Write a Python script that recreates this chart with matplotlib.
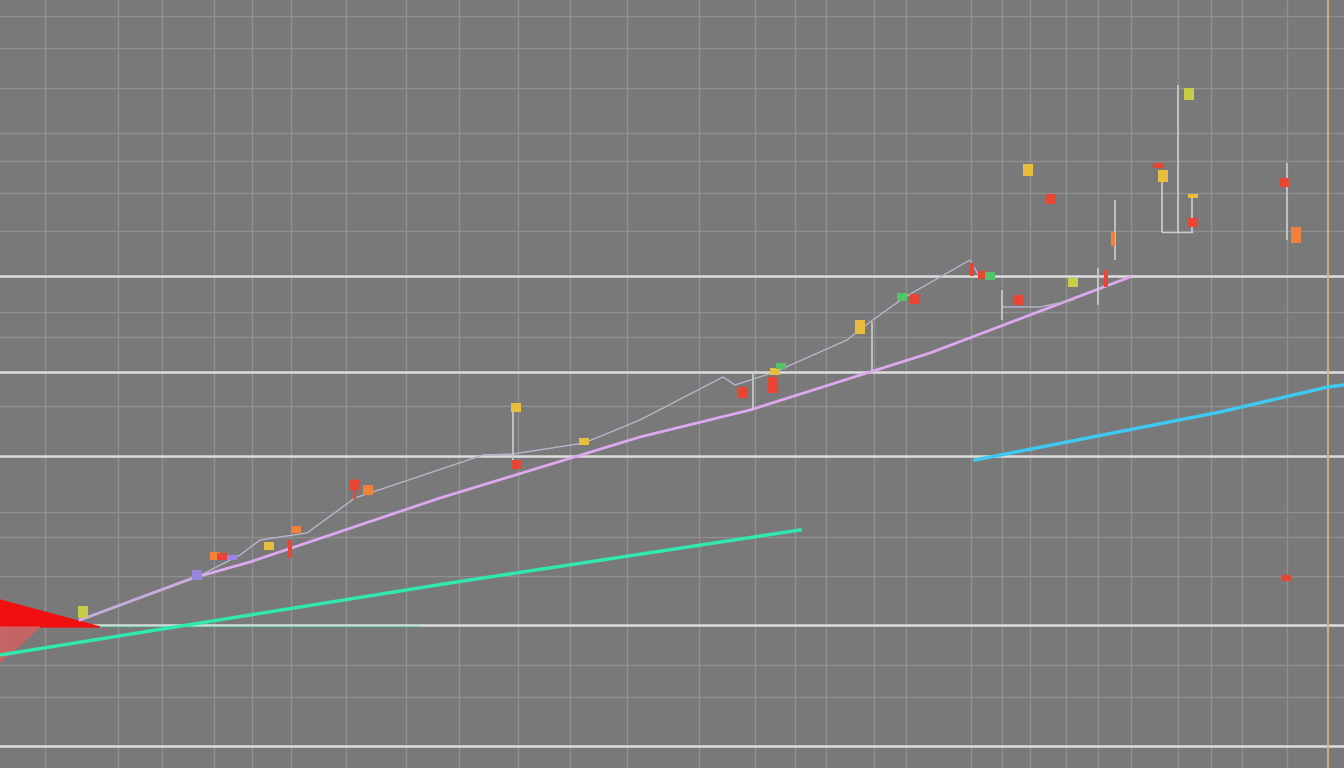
"""Abstract candlestick-style chart on a gray grid"""

import numpy as np
from matplotlib import pyplot as plt

### data (x in bars, y in price units)

# rising trend line (violet)
trend_x = [6.67, 16.08, 20.83, 36.67, 53.33, 62.5, 77.5, 94.17]
trend_y = [37, 47.5, 51.5, 67.5, 82.75, 89.5, 103.75, 122.75]

# thin price line
price_x = [7.08, 16.25, 20, 21.67, 25.58, 29.58, 40.25, 42.75, 48.67, 53.33,
           60.25, 61.25, 64.58, 70.58, 72.5, 75.42, 80.83, 81.5]
price_y = [37.5, 47.5, 53.25, 57, 58.75, 67.5, 78.25, 78.5, 81.25, 87,
           97.75, 95.75, 99, 107, 111.5, 117.75, 127, 123.5]
price2_x = [83.58, 86.67, 89.42]
price2_y = [115.25, 115.25, 117]

# green line
green_x = [0, 37.5, 66.67]
green_y = [28.25, 46.25, 59.5]

# cyan line
cyan_x = [81.25, 101.67, 110.67, 112]
cyan_y = [77, 89, 95.25, 95.75]

# candles: x, top, bottom, colour key
candle_x = [6.92, 16.42, 17.92, 18.5, 19.33, 22.42, 24.67, 29.58, 30.67,
            43, 43.08, 48.67, 61.92, 64.42, 64.58, 65.08, 71.67, 75.17, 76.25,
            81.92, 82.5, 84.83, 85.67, 87.58, 89.42, 96.5, 96.92, 99.08,
            99.42, 99.42, 107, 108, 107.17]
candle_top = [40.5, 49.5, 54, 53.75, 53.25, 56.5, 60.5, 72, 70.75,
              91.25, 77, 82.5, 95.25, 97.75, 100, 101.25, 112, 118.75, 118.5,
              124.25, 124, 118.25, 151, 143.5, 122.5, 151.25, 149.5, 170,
              143.5, 137.5, 147.5, 135.25, 48.25]
candle_bot = [37.5, 47, 52, 52, 52, 54.5, 58.75, 69.5, 68.25,
              89, 74.75, 80.75, 92.5, 93.75, 98.25, 99.75, 108.5, 116.75, 116,
              122.25, 122, 115.75, 148, 141, 120.25, 150, 146.5, 167,
              142.5, 135.25, 145.25, 131.25, 46.75]
candle_col = ["yg", "pu", "or", "rd", "pu", "ye", "or", "rd", "or",
              "ye", "rd", "ye", "rd", "rd", "ye", "gr", "ye", "gr", "rd",
              "rd", "gr", "rd", "ye", "rd", "yg", "rd", "ye", "yg",
              "ye", "rd", "rd", "or", "rd"]

# thin candles
thin_x = [24.17, 81, 92.17, 92.75]
thin_top = [57, 126.25, 124.5, 134]
thin_bot = [52.5, 123, 120.25, 130.5]
thin_col = ["rd", "rd", "rd", "or"]

# wicks: x, low, high
wick_x = [42.75, 62.75, 72.67, 83.5, 91.5, 92.92, 96.83, 98.17, 99.33, 107.25]
wick_lo = [77, 89.5, 99, 112, 115.75, 127, 134, 133.75, 134, 132]
wick_hi = [90, 99, 111.5, 119.5, 125, 142, 149.5, 170.75, 142.5, 151.25]

# grid levels
grid_x = [3.75, 9.83, 13.5, 17.83, 21, 24.25, 28.83, 33.83, 38.25, 43.17, 47.5,
          52.25, 58.25, 62.92, 66.25, 68.83, 72.83, 75.5, 80.92, 83.5, 85.83,
          88.83, 91.5, 94.25, 98.17, 100.92, 103.5, 107.25]
grid_y = [188, 180, 170, 158.75, 151.75, 143.75, 134.25, 114, 107.75, 90.5,
          64, 57.75, 48, 25.75, 17.75]
level_y = [123, 99, 78, 35.75, 5.5]

colours = {"rd": "#ea4434", "or": "#f2823a", "ye": "#e8be3c",
           "yg": "#c8cc48", "gr": "#54c46a", "pu": "#9a86e0"}

### figure
fig = plt.figure(figsize=(13.44, 7.68), dpi=100)
fig.patch.set_facecolor("#797979")
ax = fig.add_axes([0, 0, 1, 1])
ax.set_facecolor("#797979")
ax.set_xlim(0, 112)
ax.set_ylim(0, 192)
ax.axis("off")

for gx in grid_x:
    ax.axvline(gx, color="#8f8f8f", lw=1, zorder=1)
for gy in grid_y:
    ax.axhline(gy, color="#8f8f8f", lw=1, zorder=1)
for ly in level_y:
    ax.axhline(ly, color="#dedede", lw=1.8, zorder=2)
ax.axvline(110.67, color="#c2b27e", lw=1.5, zorder=2)

# red wedge at the left
ax.fill([0, 8.33, 0], [42, 35.25, 35.25], color="#f01010", zorder=3)
ax.fill([0, 3.33, 0], [35.25, 35.25, 26.5], color="#d86060", alpha=0.8, zorder=3)
ax.plot([8.33, 35], [35.5, 35.5], color="#39d8a8", lw=1, alpha=0.5, zorder=3)

ax.plot(green_x, green_y, color="#30e8b0", lw=2.5, zorder=4)
ax.plot(cyan_x, cyan_y, color="#40c8f0", lw=2.5, zorder=4)
ax.plot(trend_x, trend_y, color="#dca8f0", lw=2, zorder=4)
ax.plot(price_x, price_y, color="#b8b4cc", lw=1, zorder=4)
ax.plot(price2_x, price2_y, color="#b8b4cc", lw=1, zorder=4)
ax.plot([96.83, 99.33], [134, 134], color="#cccccc", lw=1, zorder=4)

ax.vlines(wick_x, wick_lo, wick_hi, color="#cccccc", lw=1.2, zorder=4)
ax.vlines(29.58, 67, 72.5, color="#ea4434", lw=1.5, zorder=4)

bottoms = np.array(candle_bot)
heights = np.array(candle_top) - bottoms
ax.bar(candle_x, heights, bottom=bottoms, width=0.85,
       color=[colours[c] for c in candle_col], zorder=5)
thin_b = np.array(thin_bot)
ax.bar(thin_x, np.array(thin_top) - thin_b, bottom=thin_b, width=0.35,
       color=[colours[c] for c in thin_col], zorder=5)

fig.savefig("out.png", dpi=100, facecolor=fig.get_facecolor())
